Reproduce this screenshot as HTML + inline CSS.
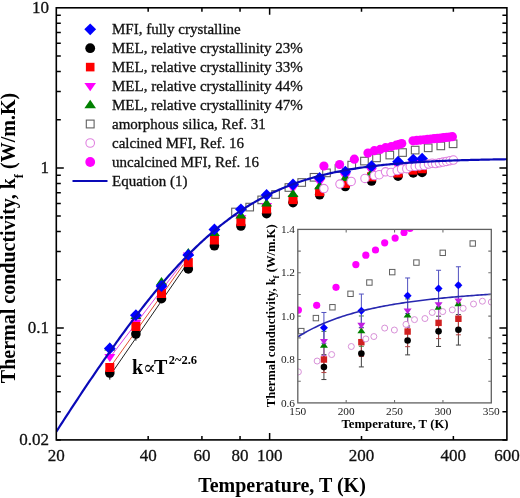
<!DOCTYPE html><html><head><meta charset="utf-8"><style>html,body{margin:0;padding:0;background:#fff;width:520px;height:498px;overflow:hidden}</style></head><body><svg width="520" height="498" viewBox="0 0 520 498" style="position:absolute;left:0;top:0">
<rect width="520" height="498" fill="#fff"/>
<defs><clipPath id="mc"><rect x="56.3" y="7.8" width="450.6" height="432.1"/></clipPath><clipPath id="ic"><rect x="297.8" y="229.4" width="193.5" height="173.49999999999997"/></clipPath></defs>
<g clip-path="url(#mc)">
<line x1="110" y1="375.6" x2="185" y2="266.9" stroke="#202020" stroke-width="1"/>
<line x1="110" y1="367.5" x2="183.5" y2="264.5" stroke="#e05030" stroke-width="1"/>
<line x1="110" y1="357.4" x2="182" y2="263.3" stroke="#e040e0" stroke-width="1"/>
<line x1="109.8" y1="366.37" x2="109.8" y2="379.63" stroke="#000000" stroke-width="1"/>
<line x1="135.9" y1="327.37" x2="135.9" y2="340.63" stroke="#000000" stroke-width="1"/>
<rect x="231.7" y="208.2" width="7.6" height="7.6" fill="none" stroke="#606060" stroke-width="1.1"/>
<rect x="245.9" y="203.3" width="7.6" height="7.6" fill="none" stroke="#606060" stroke-width="1.1"/>
<rect x="257.9" y="196.1" width="7.6" height="7.6" fill="none" stroke="#606060" stroke-width="1.1"/>
<rect x="271.8" y="190.7" width="7.6" height="7.6" fill="none" stroke="#606060" stroke-width="1.1"/>
<rect x="285.1" y="183.7" width="7.6" height="7.6" fill="none" stroke="#606060" stroke-width="1.1"/>
<rect x="297.9" y="178.7" width="7.6" height="7.6" fill="none" stroke="#606060" stroke-width="1.1"/>
<rect x="310.2" y="173.5" width="7.6" height="7.6" fill="none" stroke="#606060" stroke-width="1.1"/>
<rect x="322.71" y="169.07" width="7.6" height="7.6" fill="none" stroke="#606060" stroke-width="1.1"/>
<rect x="335.14" y="164.73" width="7.6" height="7.6" fill="none" stroke="#606060" stroke-width="1.1"/>
<rect x="347.94" y="161.31" width="7.6" height="7.6" fill="none" stroke="#606060" stroke-width="1.1"/>
<rect x="360.65" y="157.28" width="7.6" height="7.6" fill="none" stroke="#606060" stroke-width="1.1"/>
<rect x="372.72" y="154.08" width="7.6" height="7.6" fill="none" stroke="#606060" stroke-width="1.1"/>
<rect x="386" y="151.25" width="7.6" height="7.6" fill="none" stroke="#606060" stroke-width="1.1"/>
<rect x="398.75" y="148.75" width="7.6" height="7.6" fill="none" stroke="#606060" stroke-width="1.1"/>
<rect x="411.35" y="146.29" width="7.6" height="7.6" fill="none" stroke="#606060" stroke-width="1.1"/>
<rect x="424.4" y="144.01" width="7.6" height="7.6" fill="none" stroke="#606060" stroke-width="1.1"/>
<rect x="437" y="142.1" width="7.6" height="7.6" fill="none" stroke="#606060" stroke-width="1.1"/>
<rect x="449.3" y="140" width="7.6" height="7.6" fill="none" stroke="#606060" stroke-width="1.1"/>
<circle cx="109.8" cy="373" r="4.8" fill="#000000"/>
<path d="M104.3 353.98L115.3 353.98L109.8 361.95Z" fill="#ff00ff"/>
<rect x="105.3" y="363" width="9" height="9" fill="#ff0000"/>
<path d="M104.3 350.52L115.3 350.52L109.8 342.55Z" fill="#008000"/>
<path d="M109.8 342.6L115.7 348.5L109.8 354.4L103.9 348.5Z" fill="#0000ff"/>
<circle cx="135.9" cy="334" r="4.8" fill="#000000"/>
<path d="M130.4 319.68L141.4 319.68L135.9 327.65Z" fill="#ff00ff"/>
<rect x="131.4" y="322" width="9" height="9" fill="#ff0000"/>
<path d="M130.4 319.02L141.4 319.02L135.9 311.05Z" fill="#008000"/>
<path d="M135.9 309.3L141.8 315.2L135.9 321.1L130 315.2Z" fill="#0000ff"/>
<circle cx="161.5" cy="298.7" r="4.8" fill="#000000"/>
<path d="M156 286.68L167 286.68L161.5 294.65Z" fill="#ff00ff"/>
<rect x="157" y="289" width="9" height="9" fill="#ff0000"/>
<path d="M156 285.02L167 285.02L161.5 277.05Z" fill="#008000"/>
<path d="M161.5 280.1L167.4 286L161.5 291.9L155.6 286Z" fill="#0000ff"/>
<circle cx="188.3" cy="268.9" r="4.8" fill="#000000"/>
<path d="M182.8 252.47L193.8 252.47L188.3 260.45Z" fill="#ff00ff"/>
<rect x="183.8" y="258.1" width="9" height="9" fill="#ff0000"/>
<path d="M182.8 256.02L193.8 256.02L188.3 248.05Z" fill="#008000"/>
<path d="M188.3 249L194.2 254.9L188.3 260.8L182.4 254.9Z" fill="#0000ff"/>
<circle cx="214.4" cy="245.8" r="4.8" fill="#000000"/>
<path d="M208.9 228.97L219.9 228.97L214.4 236.95Z" fill="#ff00ff"/>
<rect x="209.9" y="235.5" width="9" height="9" fill="#ff0000"/>
<path d="M208.9 236.03L219.9 236.03L214.4 228.05Z" fill="#008000"/>
<path d="M214.4 223.5L220.3 229.4L214.4 235.3L208.5 229.4Z" fill="#0000ff"/>
<circle cx="240.9" cy="226" r="4.8" fill="#000000"/>
<path d="M235.4 215.28L246.4 215.28L240.9 223.25Z" fill="#ff00ff"/>
<rect x="236.4" y="217.1" width="9" height="9" fill="#ff0000"/>
<path d="M235.4 218.53L246.4 218.53L240.9 210.55Z" fill="#008000"/>
<path d="M240.9 203.4L246.8 209.3L240.9 215.2L235 209.3Z" fill="#0000ff"/>
<circle cx="266.6" cy="213.7" r="4.8" fill="#000000"/>
<path d="M261.1 202.97L272.1 202.97L266.6 210.95Z" fill="#ff00ff"/>
<rect x="262.1" y="204.5" width="9" height="9" fill="#ff0000"/>
<path d="M261.1 206.53L272.1 206.53L266.6 198.55Z" fill="#008000"/>
<path d="M266.6 189.1L272.5 195L266.6 200.9L260.7 195Z" fill="#0000ff"/>
<circle cx="293" cy="202.6" r="4.8" fill="#000000"/>
<path d="M287.5 184.97L298.5 184.97L293 192.95Z" fill="#ff00ff"/>
<rect x="288.5" y="195.1" width="9" height="9" fill="#ff0000"/>
<path d="M287.5 197.03L298.5 197.03L293 189.05Z" fill="#008000"/>
<path d="M293 178.6L298.9 184.5L293 190.4L287.1 184.5Z" fill="#0000ff"/>
<circle cx="319.6" cy="194.8" r="4.8" fill="#000000"/>
<path d="M314.1 178.97L325.1 178.97L319.6 186.95Z" fill="#ff00ff"/>
<rect x="315.1" y="187.2" width="9" height="9" fill="#ff0000"/>
<path d="M314.1 189.33L325.1 189.33L319.6 181.35Z" fill="#008000"/>
<path d="M319.6 172L325.5 177.9L319.6 183.8L313.7 177.9Z" fill="#0000ff"/>
<circle cx="345.31" cy="186.53" r="4.8" fill="#000000"/>
<path d="M339.81 173.37L350.81 173.37L345.31 181.34Z" fill="#ff00ff"/>
<rect x="340.81" y="178.92" width="9" height="9" fill="#ff0000"/>
<path d="M339.81 181.01L350.81 181.01L345.31 173.03Z" fill="#008000"/>
<path d="M345.31 165.86L351.21 171.76L345.31 177.66L339.41 171.76Z" fill="#0000ff"/>
<circle cx="371.52" cy="181.02" r="4.8" fill="#000000"/>
<path d="M366.02 167.79L377.02 167.79L371.52 175.76Z" fill="#ff00ff"/>
<rect x="367.02" y="172.29" width="9" height="9" fill="#ff0000"/>
<path d="M366.02 175.9L377.02 175.9L371.52 167.92Z" fill="#008000"/>
<path d="M371.52 160.28L377.42 166.18L371.52 172.08L365.62 166.18Z" fill="#0000ff"/>
<circle cx="398.05" cy="176.16" r="4.8" fill="#000000"/>
<path d="M392.55 163.16L403.55 163.16L398.05 171.13Z" fill="#ff00ff"/>
<rect x="393.55" y="168.52" width="9" height="9" fill="#ff0000"/>
<path d="M392.55 170.65L403.55 170.65L398.05 162.67Z" fill="#008000"/>
<path d="M398.05 155.75L403.95 161.65L398.05 167.55L392.15 161.65Z" fill="#0000ff"/>
<circle cx="413.24" cy="172.95" r="4.8" fill="#000000"/>
<path d="M407.74 161.22L418.74 161.22L413.24 169.19Z" fill="#ff00ff"/>
<rect x="408.74" y="165.59" width="9" height="9" fill="#ff0000"/>
<path d="M407.74 168.2L418.74 168.2L413.24 160.22Z" fill="#008000"/>
<path d="M413.24 153.69L419.14 159.59L413.24 165.49L407.34 159.59Z" fill="#0000ff"/>
<circle cx="422.13" cy="172.42" r="4.8" fill="#000000"/>
<path d="M416.63 160.11L427.63 160.11L422.13 168.08Z" fill="#ff00ff"/>
<rect x="417.63" y="164.24" width="9" height="9" fill="#ff0000"/>
<path d="M416.63 167.14L427.63 167.14L422.13 159.16Z" fill="#008000"/>
<path d="M422.13 152.77L428.03 158.67L422.13 164.57L416.23 158.67Z" fill="#0000ff"/>
<circle cx="323.9" cy="188.55" r="4.2" fill="#fff" stroke="#e080e0" stroke-width="1.1"/>
<circle cx="339.96" cy="184.03" r="4.2" fill="#fff" stroke="#e080e0" stroke-width="1.1"/>
<circle cx="351.17" cy="181.44" r="4.2" fill="#fff" stroke="#e080e0" stroke-width="1.1"/>
<circle cx="364.97" cy="178.39" r="4.2" fill="#fff" stroke="#e080e0" stroke-width="1.1"/>
<circle cx="374.31" cy="175.61" r="4.2" fill="#fff" stroke="#e080e0" stroke-width="1.1"/>
<circle cx="379.22" cy="174.76" r="4.2" fill="#fff" stroke="#e080e0" stroke-width="1.1"/>
<circle cx="385.56" cy="171.83" r="4.2" fill="#fff" stroke="#e080e0" stroke-width="1.1"/>
<circle cx="390.97" cy="172.5" r="4.2" fill="#fff" stroke="#e080e0" stroke-width="1.1"/>
<circle cx="397.19" cy="170.59" r="4.2" fill="#fff" stroke="#e080e0" stroke-width="1.1"/>
<circle cx="401.57" cy="169.02" r="4.2" fill="#fff" stroke="#e080e0" stroke-width="1.1"/>
<circle cx="406.76" cy="168.67" r="4.2" fill="#fff" stroke="#e080e0" stroke-width="1.1"/>
<circle cx="410.25" cy="166.73" r="4.2" fill="#fff" stroke="#e080e0" stroke-width="1.1"/>
<circle cx="415.15" cy="166.45" r="4.2" fill="#fff" stroke="#e080e0" stroke-width="1.1"/>
<circle cx="419.46" cy="165.91" r="4.2" fill="#fff" stroke="#e080e0" stroke-width="1.1"/>
<circle cx="424.17" cy="165.44" r="4.2" fill="#fff" stroke="#e080e0" stroke-width="1.1"/>
<circle cx="428.52" cy="164.11" r="4.2" fill="#fff" stroke="#e080e0" stroke-width="1.1"/>
<circle cx="432.14" cy="163.26" r="4.2" fill="#fff" stroke="#e080e0" stroke-width="1.1"/>
<circle cx="435.68" cy="163.52" r="4.2" fill="#fff" stroke="#e080e0" stroke-width="1.1"/>
<circle cx="439.41" cy="162.81" r="4.2" fill="#fff" stroke="#e080e0" stroke-width="1.1"/>
<circle cx="443.04" cy="162.1" r="4.2" fill="#fff" stroke="#e080e0" stroke-width="1.1"/>
<circle cx="446.58" cy="161.4" r="4.2" fill="#fff" stroke="#e080e0" stroke-width="1.1"/>
<circle cx="450.02" cy="160.71" r="4.2" fill="#fff" stroke="#e080e0" stroke-width="1.1"/>
<circle cx="453.37" cy="160.02" r="4.2" fill="#fff" stroke="#e080e0" stroke-width="1.1"/>
<circle cx="323.9" cy="165.98" r="4.6" fill="#ff00ff"/>
<circle cx="339.57" cy="164.51" r="4.6" fill="#ff00ff"/>
<circle cx="354.35" cy="159.22" r="4.6" fill="#ff00ff"/>
<circle cx="367.97" cy="153.06" r="4.6" fill="#ff00ff"/>
<circle cx="374.31" cy="150.68" r="4.6" fill="#ff00ff"/>
<circle cx="380.2" cy="149.39" r="4.6" fill="#ff00ff"/>
<circle cx="385.56" cy="147.65" r="4.6" fill="#ff00ff"/>
<circle cx="391.39" cy="146.52" r="4.6" fill="#ff00ff"/>
<circle cx="396.17" cy="145.2" r="4.6" fill="#ff00ff"/>
<circle cx="399.3" cy="144.26" r="4.6" fill="#ff00ff"/>
<circle cx="401.77" cy="143.52" r="4.6" fill="#ff00ff"/>
<circle cx="413.02" cy="140.78" r="4.6" fill="#ff00ff"/>
<circle cx="416.78" cy="140.43" r="4.6" fill="#ff00ff"/>
<circle cx="420.44" cy="140.09" r="4.6" fill="#ff00ff"/>
<circle cx="424" cy="139.74" r="4.6" fill="#ff00ff"/>
<circle cx="427.47" cy="139.4" r="4.6" fill="#ff00ff"/>
<circle cx="430.85" cy="139.06" r="4.6" fill="#ff00ff"/>
<circle cx="434.15" cy="138.72" r="4.6" fill="#ff00ff"/>
<circle cx="437.37" cy="138.38" r="4.6" fill="#ff00ff"/>
<circle cx="440.51" cy="138.04" r="4.6" fill="#ff00ff"/>
<circle cx="443.58" cy="137.71" r="4.6" fill="#ff00ff"/>
<circle cx="446.58" cy="137.38" r="4.6" fill="#ff00ff"/>
<circle cx="449.51" cy="137.04" r="4.6" fill="#ff00ff"/>
<circle cx="452.38" cy="136.71" r="4.6" fill="#ff00ff"/>
<polyline points="56.3,431.71 57.81,429.36 59.32,427.02 60.82,424.69 62.33,422.35 63.84,420.02 65.35,417.7 66.85,415.38 68.36,413.07 69.87,410.76 71.38,408.45 72.89,406.16 74.39,403.86 75.9,401.57 77.41,399.29 78.92,397.01 80.42,394.74 81.93,392.47 83.44,390.21 84.95,387.96 86.46,385.71 87.96,383.46 89.47,381.23 90.98,379 92.49,376.77 93.99,374.56 95.5,372.35 97.01,370.14 98.52,367.95 100.02,365.76 101.53,363.57 103.04,361.4 104.55,359.23 106.06,357.07 107.56,354.92 109.07,352.78 110.58,350.64 112.09,348.51 113.59,346.39 115.1,344.28 116.61,342.18 118.12,340.09 119.63,338 121.13,335.92 122.64,333.86 124.15,331.8 125.66,329.75 127.16,327.71 128.67,325.68 130.18,323.67 131.69,321.66 133.2,319.66 134.7,317.67 136.21,315.69 137.72,313.72 139.23,311.77 140.73,309.82 142.24,307.89 143.75,305.96 145.26,304.05 146.77,302.15 148.27,300.26 149.78,298.38 151.29,296.51 152.8,294.66 154.3,292.82 155.81,290.99 157.32,289.17 158.83,287.37 160.33,285.57 161.84,283.8 163.35,282.03 164.86,280.28 166.37,278.54 167.87,276.81 169.38,275.09 170.89,273.39 172.4,271.71 173.9,270.04 175.41,268.38 176.92,266.73 178.43,265.1 179.94,263.48 181.44,261.88 182.95,260.29 184.46,258.72 185.97,257.16 187.47,255.62 188.98,254.09 190.49,252.57 192,251.07 193.51,249.59 195.01,248.12 196.52,246.66 198.03,245.22 199.54,243.79 201.04,242.38 202.55,240.99 204.06,239.61 205.57,238.25 207.08,236.9 208.58,235.56 210.09,234.24 211.6,232.94 213.11,231.65 214.61,230.38 216.12,229.12 217.63,227.88 219.14,226.66 220.64,225.45 222.15,224.25 223.66,223.07 225.17,221.9 226.68,220.76 228.18,219.62 229.69,218.5 231.2,217.4 232.71,216.31 234.21,215.24 235.72,214.18 237.23,213.13 238.74,212.1 240.25,211.09 241.75,210.09 243.26,209.11 244.77,208.14 246.28,207.18 247.78,206.24 249.29,205.31 250.8,204.4 252.31,203.5 253.82,202.62 255.32,201.75 256.83,200.89 258.34,200.05 259.85,199.22 261.35,198.4 262.86,197.6 264.37,196.81 265.88,196.03 267.39,195.27 268.89,194.52 270.4,193.78 271.91,193.06 273.42,192.35 274.92,191.65 276.43,190.96 277.94,190.28 279.45,189.62 280.95,188.97 282.46,188.33 283.97,187.7 285.48,187.08 286.99,186.48 288.49,185.88 290,185.3 291.51,184.73 293.02,184.17 294.52,183.61 296.03,183.07 297.54,182.54 299.05,182.02 300.56,181.51 302.06,181.01 303.57,180.52 305.08,180.04 306.59,179.57 308.09,179.1 309.6,178.65 311.11,178.2 312.62,177.77 314.13,177.34 315.63,176.92 317.14,176.51 318.65,176.11 320.16,175.72 321.66,175.33 323.17,174.95 324.68,174.58 326.19,174.22 327.7,173.87 329.2,173.52 330.71,173.18 332.22,172.84 333.73,172.52 335.23,172.2 336.74,171.89 338.25,171.58 339.76,171.28 341.26,170.99 342.77,170.7 344.28,170.42 345.79,170.14 347.3,169.87 348.8,169.61 350.31,169.35 351.82,169.1 353.33,168.86 354.83,168.61 356.34,168.38 357.85,168.15 359.36,167.92 360.87,167.7 362.37,167.49 363.88,167.27 365.39,167.07 366.9,166.87 368.4,166.67 369.91,166.48 371.42,166.29 372.93,166.1 374.44,165.92 375.94,165.75 377.45,165.57 378.96,165.4 380.47,165.24 381.97,165.08 383.48,164.92 384.99,164.77 386.5,164.62 388.01,164.47 389.51,164.33 391.02,164.19 392.53,164.05 394.04,163.91 395.54,163.78 397.05,163.66 398.56,163.53 400.07,163.41 401.57,163.29 403.08,163.17 404.59,163.06 406.1,162.95 407.61,162.84 409.11,162.73 410.62,162.63 412.13,162.53 413.64,162.43 415.14,162.33 416.65,162.24 418.16,162.14 419.67,162.05 421.18,161.96 422.68,161.88 424.19,161.79 425.7,161.71 427.21,161.63 428.71,161.55 430.22,161.48 431.73,161.4 433.24,161.33 434.75,161.26 436.25,161.19 437.76,161.12 439.27,161.05 440.78,160.99 442.28,160.92 443.79,160.86 445.3,160.8 446.81,160.74 448.32,160.69 449.82,160.63 451.33,160.57 452.84,160.52 454.35,160.47 455.85,160.42 457.36,160.37 458.87,160.32 460.38,160.27 461.88,160.22 463.39,160.18 464.9,160.13 466.41,160.09 467.92,160.05 469.42,160.01 470.93,159.97 472.44,159.93 473.95,159.89 475.45,159.85 476.96,159.82 478.47,159.78 479.98,159.74 481.49,159.71 482.99,159.68 484.5,159.64 486.01,159.61 487.52,159.58 489.02,159.55 490.53,159.52 492.04,159.49 493.55,159.47 495.06,159.44 496.56,159.41 498.07,159.38 499.58,159.36 501.09,159.33 502.59,159.31 504.1,159.29 505.61,159.26 507.12,159.24" fill="none" stroke="#0a0ab8" stroke-width="2.2"/>
</g>
<rect x="56.3" y="7.8" width="450.6" height="432.1" fill="none" stroke="#000" stroke-width="1.6"/>
<path d="M148.17 439.9v-4M148.17 7.8v4M201.92 439.9v-4M201.92 7.8v4M240.05 439.9v-4M240.05 7.8v4M269.63 439.9v-7M269.63 7.8v7M361.5 439.9v-4M361.5 7.8v4M453.37 439.9v-4M453.37 7.8v4M56.3 439.91h4.5M506.9 439.91h-4.5M56.3 411.71h4.5M506.9 411.71h-4.5M56.3 391.71h4.5M506.9 391.71h-4.5M56.3 376.19h4.5M506.9 376.19h-4.5M56.3 363.52h4.5M506.9 363.52h-4.5M56.3 352.8h4.5M506.9 352.8h-4.5M56.3 343.52h4.5M506.9 343.52h-4.5M56.3 335.33h4.5M506.9 335.33h-4.5M56.3 328h7.5M506.9 328h-7.5M56.3 279.81h4.5M506.9 279.81h-4.5M56.3 251.61h4.5M506.9 251.61h-4.5M56.3 231.61h4.5M506.9 231.61h-4.5M56.3 216.09h4.5M506.9 216.09h-4.5M56.3 203.42h4.5M506.9 203.42h-4.5M56.3 192.7h4.5M506.9 192.7h-4.5M56.3 183.42h4.5M506.9 183.42h-4.5M56.3 175.23h4.5M506.9 175.23h-4.5M56.3 167.9h7.5M506.9 167.9h-7.5M56.3 119.71h4.5M506.9 119.71h-4.5M56.3 91.51h4.5M506.9 91.51h-4.5M56.3 71.51h4.5M506.9 71.51h-4.5M56.3 55.99h4.5M506.9 55.99h-4.5M56.3 43.32h4.5M506.9 43.32h-4.5M56.3 32.6h4.5M506.9 32.6h-4.5M56.3 23.32h4.5M506.9 23.32h-4.5M56.3 15.13h4.5M506.9 15.13h-4.5" stroke="#000" stroke-width="1.5" fill="none"/>
<text x="56.3" y="460.6" font-family="Liberation Serif, serif" font-size="17" text-anchor="middle" fill="#111" stroke="#111" stroke-width="0.3">20</text>
<text x="148.17" y="460.6" font-family="Liberation Serif, serif" font-size="17" text-anchor="middle" fill="#111" stroke="#111" stroke-width="0.3">40</text>
<text x="201.92" y="460.6" font-family="Liberation Serif, serif" font-size="17" text-anchor="middle" fill="#111" stroke="#111" stroke-width="0.3">60</text>
<text x="240.05" y="460.6" font-family="Liberation Serif, serif" font-size="17" text-anchor="middle" fill="#111" stroke="#111" stroke-width="0.3">80</text>
<text x="269.63" y="460.6" font-family="Liberation Serif, serif" font-size="17" text-anchor="middle" fill="#111" stroke="#111" stroke-width="0.3">100</text>
<text x="361.5" y="460.6" font-family="Liberation Serif, serif" font-size="17" text-anchor="middle" fill="#111" stroke="#111" stroke-width="0.3">200</text>
<text x="453.37" y="460.6" font-family="Liberation Serif, serif" font-size="17" text-anchor="middle" fill="#111" stroke="#111" stroke-width="0.3">400</text>
<text x="507.12" y="460.6" font-family="Liberation Serif, serif" font-size="17" text-anchor="middle" fill="#111" stroke="#111" stroke-width="0.3">600</text>
<text x="49" y="13" font-family="Liberation Serif, serif" font-size="17" text-anchor="end" fill="#111" stroke="#111" stroke-width="0.3">10</text>
<text x="49" y="173.1" font-family="Liberation Serif, serif" font-size="17" text-anchor="end" fill="#111" stroke="#111" stroke-width="0.3">1</text>
<text x="49" y="333.2" font-family="Liberation Serif, serif" font-size="17" text-anchor="end" fill="#111" stroke="#111" stroke-width="0.3">0.1</text>
<text x="49" y="445.11" font-family="Liberation Serif, serif" font-size="17" text-anchor="end" fill="#111" stroke="#111" stroke-width="0.3">0.02</text>
<text x="282" y="492.2" font-family="Liberation Serif, serif" font-size="20" font-weight="bold" text-anchor="middle" fill="#000">Temperature, T (K)</text>
<text transform="translate(15.3 238) rotate(-90)" font-family="Liberation Serif, serif" font-size="20" font-weight="bold" text-anchor="middle" fill="#000">Thermal conductivity, k<tspan font-size="12.5" dy="8">f</tspan><tspan dy="-8"> (W/m.K)</tspan></text>
<text x="131.9" y="374.2" font-family="Liberation Serif, serif" font-size="20" font-weight="bold" fill="#000">k<tspan font-family="DejaVu Serif, serif" font-weight="normal" font-size="19">&#8733;</tspan><tspan dx="-2">T</tspan><tspan font-size="12.5" dx="1.5" dy="-10">2~2.6</tspan></text>
<path d="M90.2 23.4L96.1 29.3L90.2 35.2L84.3 29.3Z" fill="#0000ff"/>
<circle cx="90.2" cy="48.2" r="4.9" fill="#000000"/>
<rect x="85.9" y="62.8" width="8.6" height="8.6" fill="#ff0000"/>
<path d="M84.4 82.91L96 82.91L90.2 91.32Z" fill="#ff00ff"/>
<path d="M84.4 108.19L96 108.19L90.2 99.78Z" fill="#008000"/>
<rect x="86.3" y="120.1" width="7.8" height="7.8" fill="none" stroke="#606060" stroke-width="1.1"/>
<circle cx="90.2" cy="143" r="4.3" fill="#fff" stroke="#e080e0" stroke-width="1.1"/>
<circle cx="90.2" cy="162" r="4.9" fill="#ff00ff"/>
<line x1="72.5" y1="181.0" x2="107.5" y2="181.0" stroke="#0a0ab8" stroke-width="2.2"/>
<text x="112" y="34.3" font-family="Liberation Serif, serif" font-size="15" fill="#111" stroke="#111" stroke-width="0.3">MFI, fully crystalline</text>
<text x="112" y="53.2" font-family="Liberation Serif, serif" font-size="15" fill="#111" stroke="#111" stroke-width="0.3">MEL, relative crystallinity 23%</text>
<text x="112" y="72.1" font-family="Liberation Serif, serif" font-size="15" fill="#111" stroke="#111" stroke-width="0.3">MEL, relative crystallinity 33%</text>
<text x="112" y="91.1" font-family="Liberation Serif, serif" font-size="15" fill="#111" stroke="#111" stroke-width="0.3">MEL, relative crystallinity 44%</text>
<text x="112" y="110" font-family="Liberation Serif, serif" font-size="15" fill="#111" stroke="#111" stroke-width="0.3">MEL, relative crystallinity 47%</text>
<text x="112" y="129" font-family="Liberation Serif, serif" font-size="15" fill="#111" stroke="#111" stroke-width="0.3">amorphous silica, Ref. 31</text>
<text x="112" y="148" font-family="Liberation Serif, serif" font-size="15" fill="#111" stroke="#111" stroke-width="0.3">calcined MFI, Ref. 16</text>
<text x="112" y="167" font-family="Liberation Serif, serif" font-size="15" fill="#111" stroke="#111" stroke-width="0.3">uncalcined MFI, Ref. 16</text>
<text x="112" y="186" font-family="Liberation Serif, serif" font-size="15" fill="#111" stroke="#111" stroke-width="0.3">Equation (1)</text>
<rect x="297.8" y="229.4" width="193.5" height="173.5" fill="#fff" stroke="none"/>
<g clip-path="url(#ic)">
<line x1="323.92" y1="354.67" x2="323.92" y2="379.56" stroke="#404040" stroke-width="1"/>
<line x1="321.42" y1="354.67" x2="326.42" y2="354.67" stroke="#404040" stroke-width="1"/>
<line x1="321.42" y1="379.56" x2="326.42" y2="379.56" stroke="#404040" stroke-width="1"/>
<line x1="323.92" y1="346.51" x2="323.92" y2="372.54" stroke="#b04040" stroke-width="1"/>
<line x1="321.42" y1="346.51" x2="326.42" y2="346.51" stroke="#b04040" stroke-width="1"/>
<line x1="321.42" y1="372.54" x2="326.42" y2="372.54" stroke="#b04040" stroke-width="1"/>
<line x1="323.92" y1="331.36" x2="323.92" y2="359.5" stroke="#408040" stroke-width="1"/>
<line x1="321.42" y1="331.36" x2="326.42" y2="331.36" stroke="#408040" stroke-width="1"/>
<line x1="321.42" y1="359.5" x2="326.42" y2="359.5" stroke="#408040" stroke-width="1"/>
<line x1="323.92" y1="326.7" x2="323.92" y2="355.49" stroke="#b060d0" stroke-width="1"/>
<line x1="321.42" y1="326.7" x2="326.42" y2="326.7" stroke="#b060d0" stroke-width="1"/>
<line x1="321.42" y1="355.49" x2="326.42" y2="355.49" stroke="#b060d0" stroke-width="1"/>
<line x1="323.92" y1="312.47" x2="323.92" y2="343.25" stroke="#5050c0" stroke-width="1"/>
<line x1="321.42" y1="312.47" x2="326.42" y2="312.47" stroke="#5050c0" stroke-width="1"/>
<line x1="321.42" y1="343.25" x2="326.42" y2="343.25" stroke="#5050c0" stroke-width="1"/>
<line x1="361.36" y1="339.98" x2="361.36" y2="366.92" stroke="#404040" stroke-width="1"/>
<line x1="358.86" y1="339.98" x2="363.86" y2="339.98" stroke="#404040" stroke-width="1"/>
<line x1="358.86" y1="366.92" x2="363.86" y2="366.92" stroke="#404040" stroke-width="1"/>
<line x1="361.36" y1="327.86" x2="361.36" y2="356.49" stroke="#b04040" stroke-width="1"/>
<line x1="358.86" y1="327.86" x2="363.86" y2="327.86" stroke="#b04040" stroke-width="1"/>
<line x1="358.86" y1="356.49" x2="363.86" y2="356.49" stroke="#b04040" stroke-width="1"/>
<line x1="361.36" y1="315.97" x2="361.36" y2="346.26" stroke="#408040" stroke-width="1"/>
<line x1="358.86" y1="315.97" x2="363.86" y2="315.97" stroke="#408040" stroke-width="1"/>
<line x1="358.86" y1="346.26" x2="363.86" y2="346.26" stroke="#408040" stroke-width="1"/>
<line x1="361.36" y1="309.44" x2="361.36" y2="340.64" stroke="#b060d0" stroke-width="1"/>
<line x1="358.86" y1="309.44" x2="363.86" y2="309.44" stroke="#b060d0" stroke-width="1"/>
<line x1="358.86" y1="340.64" x2="363.86" y2="340.64" stroke="#b060d0" stroke-width="1"/>
<line x1="361.36" y1="294.06" x2="361.36" y2="327.4" stroke="#5050c0" stroke-width="1"/>
<line x1="358.86" y1="294.06" x2="363.86" y2="294.06" stroke="#5050c0" stroke-width="1"/>
<line x1="358.86" y1="327.4" x2="363.86" y2="327.4" stroke="#5050c0" stroke-width="1"/>
<line x1="407.61" y1="326" x2="407.61" y2="354.88" stroke="#404040" stroke-width="1"/>
<line x1="405.11" y1="326" x2="410.11" y2="326" stroke="#404040" stroke-width="1"/>
<line x1="405.11" y1="354.88" x2="410.11" y2="354.88" stroke="#404040" stroke-width="1"/>
<line x1="407.61" y1="316.44" x2="407.61" y2="346.66" stroke="#b04040" stroke-width="1"/>
<line x1="405.11" y1="316.44" x2="410.11" y2="316.44" stroke="#b04040" stroke-width="1"/>
<line x1="405.11" y1="346.66" x2="410.11" y2="346.66" stroke="#b04040" stroke-width="1"/>
<line x1="407.61" y1="298.95" x2="407.61" y2="331.61" stroke="#408040" stroke-width="1"/>
<line x1="405.11" y1="298.95" x2="410.11" y2="298.95" stroke="#408040" stroke-width="1"/>
<line x1="405.11" y1="331.61" x2="410.11" y2="331.61" stroke="#408040" stroke-width="1"/>
<line x1="407.61" y1="294.06" x2="407.61" y2="327.4" stroke="#b060d0" stroke-width="1"/>
<line x1="405.11" y1="294.06" x2="410.11" y2="294.06" stroke="#b060d0" stroke-width="1"/>
<line x1="405.11" y1="327.4" x2="410.11" y2="327.4" stroke="#b060d0" stroke-width="1"/>
<line x1="407.61" y1="277.97" x2="407.61" y2="313.56" stroke="#5050c0" stroke-width="1"/>
<line x1="405.11" y1="277.97" x2="410.11" y2="277.97" stroke="#5050c0" stroke-width="1"/>
<line x1="405.11" y1="313.56" x2="410.11" y2="313.56" stroke="#5050c0" stroke-width="1"/>
<line x1="438.57" y1="316.2" x2="438.57" y2="346.46" stroke="#404040" stroke-width="1"/>
<line x1="436.07" y1="316.2" x2="441.07" y2="316.2" stroke="#404040" stroke-width="1"/>
<line x1="436.07" y1="346.46" x2="441.07" y2="346.46" stroke="#404040" stroke-width="1"/>
<line x1="438.57" y1="307.11" x2="438.57" y2="338.63" stroke="#b04040" stroke-width="1"/>
<line x1="436.07" y1="307.11" x2="441.07" y2="307.11" stroke="#b04040" stroke-width="1"/>
<line x1="436.07" y1="338.63" x2="441.07" y2="338.63" stroke="#b04040" stroke-width="1"/>
<line x1="438.57" y1="290.56" x2="438.57" y2="324.39" stroke="#408040" stroke-width="1"/>
<line x1="436.07" y1="290.56" x2="441.07" y2="290.56" stroke="#408040" stroke-width="1"/>
<line x1="436.07" y1="324.39" x2="441.07" y2="324.39" stroke="#408040" stroke-width="1"/>
<line x1="438.57" y1="287.29" x2="438.57" y2="321.58" stroke="#b060d0" stroke-width="1"/>
<line x1="436.07" y1="287.29" x2="441.07" y2="287.29" stroke="#b060d0" stroke-width="1"/>
<line x1="436.07" y1="321.58" x2="441.07" y2="321.58" stroke="#b060d0" stroke-width="1"/>
<line x1="438.57" y1="270.28" x2="438.57" y2="306.94" stroke="#5050c0" stroke-width="1"/>
<line x1="436.07" y1="270.28" x2="441.07" y2="270.28" stroke="#5050c0" stroke-width="1"/>
<line x1="436.07" y1="306.94" x2="441.07" y2="306.94" stroke="#5050c0" stroke-width="1"/>
<line x1="458.4" y1="314.57" x2="458.4" y2="345.05" stroke="#404040" stroke-width="1"/>
<line x1="455.9" y1="314.57" x2="460.9" y2="314.57" stroke="#404040" stroke-width="1"/>
<line x1="455.9" y1="345.05" x2="460.9" y2="345.05" stroke="#404040" stroke-width="1"/>
<line x1="458.4" y1="302.68" x2="458.4" y2="334.82" stroke="#b04040" stroke-width="1"/>
<line x1="455.9" y1="302.68" x2="460.9" y2="302.68" stroke="#b04040" stroke-width="1"/>
<line x1="455.9" y1="334.82" x2="460.9" y2="334.82" stroke="#b04040" stroke-width="1"/>
<line x1="458.4" y1="286.83" x2="458.4" y2="321.18" stroke="#408040" stroke-width="1"/>
<line x1="455.9" y1="286.83" x2="460.9" y2="286.83" stroke="#408040" stroke-width="1"/>
<line x1="455.9" y1="321.18" x2="460.9" y2="321.18" stroke="#408040" stroke-width="1"/>
<line x1="458.4" y1="283.33" x2="458.4" y2="318.17" stroke="#b060d0" stroke-width="1"/>
<line x1="455.9" y1="283.33" x2="460.9" y2="283.33" stroke="#b060d0" stroke-width="1"/>
<line x1="455.9" y1="318.17" x2="460.9" y2="318.17" stroke="#b060d0" stroke-width="1"/>
<line x1="458.4" y1="266.78" x2="458.4" y2="303.93" stroke="#5050c0" stroke-width="1"/>
<line x1="455.9" y1="266.78" x2="460.9" y2="266.78" stroke="#5050c0" stroke-width="1"/>
<line x1="455.9" y1="303.93" x2="460.9" y2="303.93" stroke="#5050c0" stroke-width="1"/>
<rect x="298.58" y="328.41" width="5.4" height="5.4" fill="none" stroke="#606060" stroke-width="1"/>
<rect x="313.19" y="315.4" width="5.4" height="5.4" fill="none" stroke="#606060" stroke-width="1"/>
<rect x="329.74" y="304.56" width="5.4" height="5.4" fill="none" stroke="#606060" stroke-width="1"/>
<rect x="347.83" y="291.11" width="5.4" height="5.4" fill="none" stroke="#606060" stroke-width="1"/>
<rect x="366.69" y="279.83" width="5.4" height="5.4" fill="none" stroke="#606060" stroke-width="1"/>
<rect x="389.53" y="269.42" width="5.4" height="5.4" fill="none" stroke="#606060" stroke-width="1"/>
<rect x="413.72" y="259.88" width="5.4" height="5.4" fill="none" stroke="#606060" stroke-width="1"/>
<rect x="440.03" y="250.12" width="5.4" height="5.4" fill="none" stroke="#606060" stroke-width="1"/>
<rect x="470.02" y="240.8" width="5.4" height="5.4" fill="none" stroke="#606060" stroke-width="1"/>
<circle cx="323.92" cy="367.12" r="3.3" fill="#000000"/>
<rect x="320.72" y="356.32" width="6.4" height="6.4" fill="#d02020"/>
<path d="M319.92 347.63L327.92 347.63L323.92 341.83Z" fill="#008000"/>
<path d="M319.92 338.89L327.92 338.89L323.92 344.69Z" fill="#c020e0"/>
<path d="M323.92 323.86L327.92 327.86L323.92 331.86L319.92 327.86Z" fill="#0000ff"/>
<circle cx="361.36" cy="353.45" r="3.3" fill="#000000"/>
<rect x="358.16" y="338.97" width="6.4" height="6.4" fill="#d02020"/>
<path d="M357.36 333.31L365.36 333.31L361.36 327.51Z" fill="#008000"/>
<path d="M357.36 322.84L365.36 322.84L361.36 328.64Z" fill="#c020e0"/>
<path d="M361.36 306.73L365.36 310.73L361.36 314.73L357.36 310.73Z" fill="#0000ff"/>
<circle cx="407.61" cy="340.44" r="3.3" fill="#000000"/>
<rect x="404.41" y="328.35" width="6.4" height="6.4" fill="#d02020"/>
<path d="M403.61 317.48L411.61 317.48L407.61 311.68Z" fill="#008000"/>
<path d="M403.61 308.53L411.61 308.53L407.61 314.33Z" fill="#c020e0"/>
<path d="M407.61 291.76L411.61 295.76L407.61 299.76L403.61 295.76Z" fill="#0000ff"/>
<circle cx="438.57" cy="331.33" r="3.3" fill="#000000"/>
<rect x="435.37" y="319.67" width="6.4" height="6.4" fill="#d02020"/>
<path d="M434.57 309.67L442.57 309.67L438.57 303.87Z" fill="#008000"/>
<path d="M434.57 302.24L442.57 302.24L438.57 308.04Z" fill="#c020e0"/>
<path d="M438.57 284.61L442.57 288.61L438.57 292.61L434.57 288.61Z" fill="#0000ff"/>
<circle cx="458.4" cy="329.81" r="3.3" fill="#000000"/>
<rect x="455.2" y="315.55" width="6.4" height="6.4" fill="#d02020"/>
<path d="M454.4 306.2L462.4 306.2L458.4 300.4Z" fill="#008000"/>
<path d="M454.4 298.55L462.4 298.55L458.4 304.35Z" fill="#c020e0"/>
<path d="M458.4 281.35L462.4 285.35L458.4 289.35L454.4 285.35Z" fill="#0000ff"/>
<circle cx="298.38" cy="371.89" r="3" fill="#fff" stroke="#d890d8" stroke-width="1"/>
<circle cx="317.15" cy="361.04" r="3" fill="#fff" stroke="#d890d8" stroke-width="1"/>
<circle cx="331.66" cy="354.54" r="3" fill="#fff" stroke="#d890d8" stroke-width="1"/>
<circle cx="351.3" cy="346.51" r="3" fill="#fff" stroke="#d890d8" stroke-width="1"/>
<circle cx="365.82" cy="338.92" r="3" fill="#fff" stroke="#d890d8" stroke-width="1"/>
<circle cx="373.85" cy="336.54" r="3" fill="#fff" stroke="#d890d8" stroke-width="1"/>
<circle cx="384.68" cy="328.08" r="3" fill="#fff" stroke="#d890d8" stroke-width="1"/>
<circle cx="394.36" cy="330.03" r="3" fill="#fff" stroke="#d890d8" stroke-width="1"/>
<circle cx="405.97" cy="324.39" r="3" fill="#fff" stroke="#d890d8" stroke-width="1"/>
<circle cx="414.48" cy="319.62" r="3" fill="#fff" stroke="#d890d8" stroke-width="1"/>
<circle cx="424.93" cy="318.54" r="3" fill="#fff" stroke="#d890d8" stroke-width="1"/>
<circle cx="432.19" cy="312.46" r="3" fill="#fff" stroke="#d890d8" stroke-width="1"/>
<circle cx="442.73" cy="311.6" r="3" fill="#fff" stroke="#d890d8" stroke-width="1"/>
<circle cx="452.31" cy="309.86" r="3" fill="#fff" stroke="#d890d8" stroke-width="1"/>
<circle cx="463.15" cy="308.34" r="3" fill="#fff" stroke="#d890d8" stroke-width="1"/>
<circle cx="473.5" cy="304" r="3" fill="#fff" stroke="#d890d8" stroke-width="1"/>
<circle cx="482.4" cy="301.19" r="3" fill="#fff" stroke="#d890d8" stroke-width="1"/>
<circle cx="491.3" cy="302.05" r="3" fill="#fff" stroke="#d890d8" stroke-width="1"/>
<circle cx="298.38" cy="310.08" r="3.6" fill="#ff00ff"/>
<circle cx="316.67" cy="305.31" r="3.6" fill="#ff00ff"/>
<circle cx="336.02" cy="287.31" r="3.6" fill="#ff00ff"/>
<circle cx="355.85" cy="264.53" r="3.6" fill="#ff00ff"/>
<circle cx="365.82" cy="255.21" r="3.6" fill="#ff00ff"/>
<circle cx="375.49" cy="250" r="3.6" fill="#ff00ff"/>
<circle cx="384.68" cy="242.85" r="3.6" fill="#ff00ff"/>
<circle cx="395.13" cy="238.07" r="3.6" fill="#ff00ff"/>
<circle cx="404.03" cy="232.44" r="3.6" fill="#ff00ff"/>
<circle cx="410.03" cy="228.32" r="3.6" fill="#ff00ff"/>
<circle cx="414.87" cy="225.06" r="3.6" fill="#ff00ff"/>
<polyline points="297.8,336.93 299.75,335.71 301.71,334.52 303.66,333.37 305.62,332.25 307.57,331.17 309.53,330.12 311.48,329.1 313.44,328.12 315.39,327.16 317.35,326.23 319.3,325.33 321.25,324.45 323.21,323.6 325.16,322.78 327.12,321.98 329.07,321.2 331.03,320.44 332.98,319.71 334.94,318.99 336.89,318.3 338.85,317.62 340.8,316.96 342.75,316.32 344.71,315.7 346.66,315.09 348.62,314.5 350.57,313.93 352.53,313.37 354.48,312.83 356.44,312.3 358.39,311.78 360.35,311.28 362.3,310.79 364.25,310.31 366.21,309.85 368.16,309.39 370.12,308.95 372.07,308.52 374.03,308.1 375.98,307.68 377.94,307.28 379.89,306.89 381.85,306.51 383.8,306.14 385.75,305.77 387.71,305.42 389.66,305.07 391.62,304.73 393.57,304.4 395.53,304.07 397.48,303.76 399.44,303.45 401.39,303.14 403.35,302.85 405.3,302.56 407.25,302.27 409.21,302 411.16,301.73 413.12,301.46 415.07,301.2 417.03,300.95 418.98,300.7 420.94,300.46 422.89,300.22 424.85,299.98 426.8,299.76 428.75,299.53 430.71,299.31 432.66,299.1 434.62,298.89 436.57,298.68 438.53,298.48 440.48,298.28 442.44,298.09 444.39,297.9 446.35,297.71 448.3,297.53 450.25,297.35 452.21,297.17 454.16,297 456.12,296.83 458.07,296.66 460.03,296.5 461.98,296.34 463.94,296.18 465.89,296.03 467.85,295.88 469.8,295.73 471.75,295.58 473.71,295.44 475.66,295.3 477.62,295.16 479.57,295.03 481.53,294.89 483.48,294.76 485.44,294.63 487.39,294.51 489.35,294.38 491.3,294.26" fill="none" stroke="#2828b0" stroke-width="1.6"/>
</g>
<rect x="297.8" y="229.4" width="193.5" height="173.5" fill="none" stroke="#606060" stroke-width="1.3"/>
<path d="M346.18 402.9v-3M346.18 229.4v3M394.55 402.9v-3M394.55 229.4v3M442.93 402.9v-3M442.93 229.4v3M297.8 381.21h3M491.3 381.21h-3M297.8 359.52h3M491.3 359.52h-3M297.8 337.84h3M491.3 337.84h-3M297.8 316.15h3M491.3 316.15h-3M297.8 294.46h3M491.3 294.46h-3M297.8 272.78h3M491.3 272.78h-3M297.8 251.09h3M491.3 251.09h-3" stroke="#707070" stroke-width="1.1" fill="none"/>
<text x="297.8" y="414.8" font-family="Liberation Serif, serif" font-size="11.3" text-anchor="middle" fill="#1a1a1a">150</text>
<text x="346.18" y="414.8" font-family="Liberation Serif, serif" font-size="11.3" text-anchor="middle" fill="#1a1a1a">200</text>
<text x="394.55" y="414.8" font-family="Liberation Serif, serif" font-size="11.3" text-anchor="middle" fill="#1a1a1a">250</text>
<text x="442.93" y="414.8" font-family="Liberation Serif, serif" font-size="11.3" text-anchor="middle" fill="#1a1a1a">300</text>
<text x="491.3" y="414.8" font-family="Liberation Serif, serif" font-size="11.3" text-anchor="middle" fill="#1a1a1a">350</text>
<text x="295" y="406.6" font-family="Liberation Serif, serif" font-size="11.3" text-anchor="end" fill="#1a1a1a">0.6</text>
<text x="295" y="363.22" font-family="Liberation Serif, serif" font-size="11.3" text-anchor="end" fill="#1a1a1a">0.8</text>
<text x="295" y="319.85" font-family="Liberation Serif, serif" font-size="11.3" text-anchor="end" fill="#1a1a1a">1.0</text>
<text x="295" y="276.47" font-family="Liberation Serif, serif" font-size="11.3" text-anchor="end" fill="#1a1a1a">1.2</text>
<text x="295" y="233.1" font-family="Liberation Serif, serif" font-size="11.3" text-anchor="end" fill="#1a1a1a">1.4</text>
<text x="395" y="427.7" font-family="Liberation Serif, serif" font-size="12.8" font-weight="bold" text-anchor="middle" fill="#000">Temperature, T (K)</text>
<text transform="translate(274.7 315.8) rotate(-90)" font-family="Liberation Serif, serif" font-size="12.6" font-weight="bold" text-anchor="middle" fill="#000">Thermal conductivity, k<tspan font-size="8" dy="4">f</tspan><tspan dy="-4"> (W/m.K)</tspan></text>
</svg></body></html>
